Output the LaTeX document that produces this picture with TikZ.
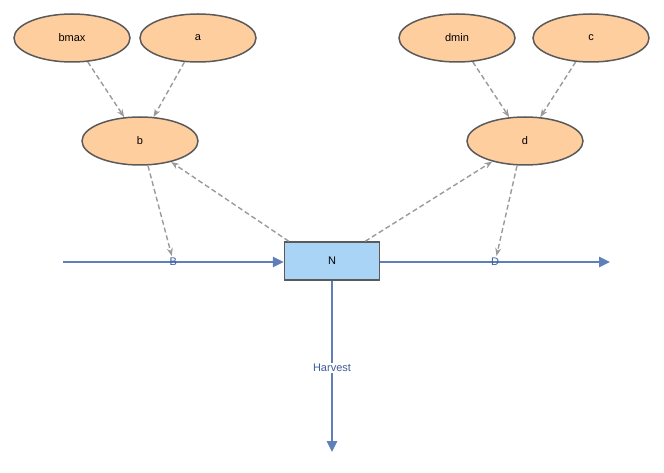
\documentclass[tikz,border=0pt]{standalone}
\usepackage{fontspec}
\setmainfont{Liberation Sans}
\usetikzlibrary{arrows.meta,shapes.geometric}
\definecolor{aux}{HTML}{FFCE9F}
\definecolor{auxline}{HTML}{5A5A5A}
\definecolor{stock}{HTML}{A9D4F5}
\definecolor{flow}{HTML}{5F7FB8}
\definecolor{flowtxt}{HTML}{3E5C9A}
\definecolor{link}{HTML}{9A9A9A}
\begin{document}
\begin{tikzpicture}[x=1pt,y=-1pt,font=\fontsize{11}{13}\selectfont,
aux/.style={draw=auxline,fill=aux,ellipse,line width=1.5pt,minimum width=116pt,minimum height=48pt},
stock/.style={draw=auxline,fill=stock,line width=1.5pt,minimum width=95pt,minimum height=38pt},
flowl/.style={draw=flow,line width=2.5pt,-{Triangle[length=11pt,width=10pt]}},
linkl/.style={draw=link,line width=1.4pt,dash pattern=on 5pt off 3pt,-{Stealth[length=8pt]}}]
\useasboundingbox (0,0) rectangle (664,473);

\node[aux](bmax) at (72,38){bmax};
\node[aux](a) at (198,38){a};
\node[aux](dmin) at (457,38){dmin};
\node[aux](c) at (591,38){c};
\node[aux](b) at (140,141){b};
\node[aux](d) at (525,141){d};
\node[stock](N) at (332,261){N};

\coordinate(src) at (63,262);
\coordinate(snk) at (610,262);
\coordinate(hv) at (332,452);

% flows
\draw[flowl] (src) -- node[pos=0.5,text=flowtxt,inner sep=1pt](B){B} (N.west|-src);
\draw[flowl] (N.east|-snk) -- node[pos=0.5,text=flowtxt,inner sep=1pt](D){D} (snk);
\draw[flowl] (N.south) -- node[pos=0.51,fill=white,text=flowtxt,inner sep=1pt](H){Harvest} (hv);

% links
\draw[linkl] (bmax) -- (b);
\draw[linkl] (a) -- (b);
\draw[linkl] (dmin) -- (d);
\draw[linkl] (c) -- (d);
\draw[linkl] (b.south) ++(8,0) -- (B);
\draw[linkl] (d.south) ++(-8,0) -- (D);
\draw[linkl] (N.north west) ++(5,0) -- (b);
\draw[linkl] (N.north east) ++(-15,0) -- (d);
\end{tikzpicture}
\end{document}
